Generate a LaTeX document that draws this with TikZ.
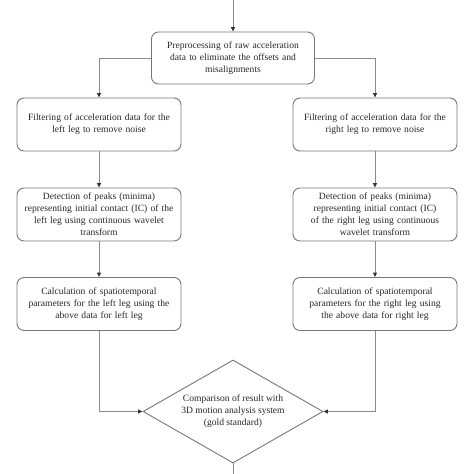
\documentclass[tikz,border=0pt]{standalone}
\usepackage{fontspec}
\setmainfont{Liberation Serif}
\usetikzlibrary{shapes.geometric,arrows.meta}
\definecolor{linegray}{HTML}{8A8A8A}
\definecolor{boxgray}{HTML}{777777}
\definecolor{tipgray}{HTML}{333333}
\tikzset{
  procbox/.style={draw=boxgray, line width=0.9bp, rounded corners=7bp, align=center,
    font=\fontsize{9.6}{12}\selectfont, text=black!85, inner sep=0pt,
    minimum width=164bp, minimum height=53bp, text width=160bp},
  decbox/.style={draw=boxgray, line width=0.9bp, diamond, align=center, inner sep=0pt,
    font=\fontsize{9.6}{12}\selectfont, text=black!85,
    minimum width=180bp, minimum height=103bp, aspect=1.75},
  flow/.style={draw=linegray, line width=0.9bp,
    -{Triangle[length=4.5bp,width=4bp,color=tipgray]}},
  plainflow/.style={draw=linegray, line width=0.9bp}
}
\begin{document}
\begin{tikzpicture}[x=1bp,y=-1bp]
\useasboundingbox (0,0) rectangle (474,474);
\coordinate (topin) at (233,0);
\coordinate (botout) at (233,474);
\node[procbox, minimum width=163bp, minimum height=52bp] (pre) at (233,58) {Preprocessing of raw acceleration\\data to eliminate the offsets and\\misalignments};
\node[procbox] (fl) at (99,124.5) {Filtering of acceleration data for the\\left leg to remove noise};
\node[procbox] (fr) at (375,124.5) {Filtering of acceleration data for the\\right leg to remove noise};
\node[procbox] (dl) at (99,214.5) {Detection of peaks (minima)\\representing initial contact (IC) of the\\left leg using continuous wavelet\\transform};
\node[procbox] (dr) at (375,214.5) {Detection of peaks (minima)\\representing initial contact (IC)\\of the right leg using continuous\\wavelet transform};
\node[procbox] (cl) at (99,304) {Calculation of spatiotemporal\\parameters for the left leg using the\\above data for left leg};
\node[procbox] (cr) at (375,304) {Calculation of spatiotemporal\\parameters for the right leg using\\the above data for right leg};
\node[decbox] (cmp) at (233,411.5) {Comparison of result with\\3D motion analysis system\\(gold standard)};
\draw[flow] (topin) -- (pre.north);
\draw[flow] (pre.west) -| (fl.north);
\draw[flow] (pre.east) -| (fr.north);
\draw[flow] (fl) -- (dl);
\draw[flow] (fr) -- (dr);
\draw[flow] (dl) -- (cl);
\draw[flow] (dr) -- (cr);
\draw[flow] (cl.south) |- (cmp.west);
\draw[flow] (cr.south) |- (cmp.east);
\draw[plainflow] (cmp.south) -- (botout);
\end{tikzpicture}
\end{document}
